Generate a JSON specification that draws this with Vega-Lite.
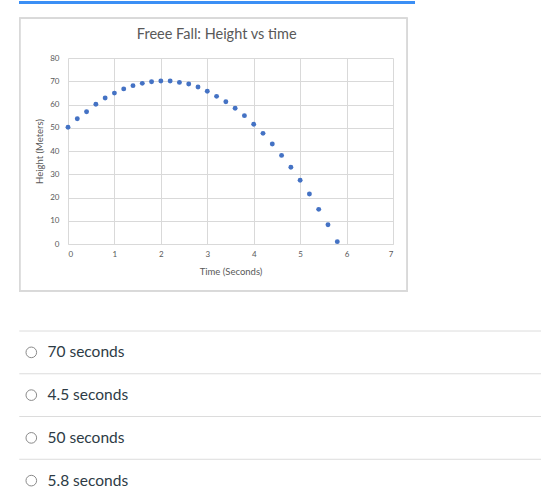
{
  "$schema": "https://vega.github.io/schema/vega-lite/v6.json",
  "padding": {"left": 18, "top": 0, "right": 0, "bottom": 0},
  "background": "white",
  "columns": 1,
  "spacing": 38,
  "concat": [
    {
      "width": 325,
      "height": 186,
      "title": {
        "text": "Freee Fall: Height vs time",
        "font": "Lato",
        "fontSize": 14.5,
        "fontWeight": "normal",
        "color": "#595959",
        "anchor": "middle",
        "frame": "bounds",
        "baseline": "bottom",
        "offset": -56
      },
      "data": {
        "values": [
          {"t": 0.0, "h": 50.2}, {"t": 0.2, "h": 53.9}, {"t": 0.4, "h": 56.9},
          {"t": 0.6, "h": 60.1}, {"t": 0.8, "h": 62.8}, {"t": 1.0, "h": 64.9},
          {"t": 1.2, "h": 66.7}, {"t": 1.4, "h": 68.1}, {"t": 1.6, "h": 69.1},
          {"t": 1.8, "h": 69.8}, {"t": 2.0, "h": 70.1}, {"t": 2.2, "h": 70.1},
          {"t": 2.4, "h": 69.5}, {"t": 2.6, "h": 68.8}, {"t": 2.8, "h": 67.5},
          {"t": 3.0, "h": 65.7}, {"t": 3.2, "h": 63.5}, {"t": 3.4, "h": 61.2},
          {"t": 3.6, "h": 58.4}, {"t": 3.8, "h": 55.2}, {"t": 4.0, "h": 51.5},
          {"t": 4.2, "h": 47.6}, {"t": 4.4, "h": 43.0}, {"t": 4.6, "h": 38.1},
          {"t": 4.8, "h": 33.0}, {"t": 5.0, "h": 27.4}, {"t": 5.2, "h": 21.5},
          {"t": 5.4, "h": 14.9}, {"t": 5.6, "h": 8.3}, {"t": 5.8, "h": 1.0}
        ]
      },
      "layer": [
        {
          "mark": {"type": "rect", "color": "#3b8ff5", "clip": false},
          "encoding": {
            "x": {"datum": -1.049, "type": "quantitative", "title": "Time (Seconds)", "scale": {"domain": [0, 7], "nice": false, "zero": false}, "axis": {"values": [0, 1, 2, 3, 4, 5, 6, 7], "format": "d"}},
            "x2": {"datum": 7.459},
            "y": {"datum": 104.52, "type": "quantitative", "title": "Height (Meters)", "scale": {"domain": [0, 80], "nice": false}, "axis": {"values": [0, 10, 20, 30, 40, 50, 60, 70, 80]}},
            "y2": {"datum": 103.23}
          }
        },
        {
          "mark": {"type": "rect", "fill": "white", "fillOpacity": 0, "stroke": "#d9d9d9", "strokeWidth": 1, "clip": false},
          "encoding": {
            "x": {"datum": -1.0425, "type": "quantitative", "title": "Time (Seconds)", "axis": {"values": [0, 1, 2, 3, 4, 5, 6, 7], "format": "d"}},
            "x2": {"datum": 7.308},
            "y": {"datum": 97.08, "type": "quantitative", "title": "Height (Meters)", "axis": {"values": [0, 10, 20, 30, 40, 50, 60, 70, 80]}},
            "y2": {"datum": -20.2}
          }
        },
        {
          "mark": {"type": "point", "shape": "circle", "filled": true, "color": "#4472c4", "opacity": 1, "size": 24},
          "encoding": {
            "x": {"field": "t", "type": "quantitative", "title": "Time (Seconds)", "axis": {"values": [0, 1, 2, 3, 4, 5, 6, 7], "format": "d"}},
            "y": {"field": "h", "type": "quantitative", "title": "Height (Meters)", "axis": {"values": [0, 10, 20, 30, 40, 50, 60, 70, 80]}}
          }
        }
      ]
    },
    {
      "width": 474,
      "height": 171,
      "data": {
        "values": [
          {"option": "70 seconds"},
          {"option": "4.5 seconds"},
          {"option": "50 seconds"},
          {"option": "5.8 seconds"}
        ]
      },
      "encoding": {
        "y": {
          "field": "option",
          "type": "nominal",
          "sort": null,
          "axis": null,
          "scale": {"paddingInner": 0, "paddingOuter": 0}
        }
      },
      "layer": [
        {
          "mark": {"type": "rule", "color": "#dcdcdc", "strokeWidth": 1, "clip": false},
          "encoding": {
            "x": {"datum": -48.7, "type": "quantitative", "scale": {"domain": [0, 474], "nice": false, "zero": false}, "axis": null},
            "x2": {"datum": 474.3},
            "y": {"field": "option", "type": "nominal", "sort": null, "bandPosition": 0, "axis": null}
          }
        },
        {
          "mark": {"type": "point", "shape": "circle", "filled": false, "stroke": "#8a8a8a", "strokeWidth": 1, "opacity": 1, "size": 113},
          "encoding": {
            "x": {"datum": -36.7, "type": "quantitative", "axis": null}
          }
        },
        {
          "mark": {"type": "text", "align": "left", "baseline": "middle", "font": "Lato", "fontSize": 15.5, "color": "#2d3b45"},
          "encoding": {
            "x": {"datum": -20.5, "type": "quantitative", "axis": null},
            "text": {"field": "option"}
          }
        }
      ]
    }
  ],
  "config": {
    "view": {"stroke": null},
    "axis": {
      "grid": true,
      "gridColor": "#d9d9d9",
      "ticks": false,
      "labelFont": "Lato",
      "labelFontSize": 8,
      "labelColor": "#595959",
      "titleFont": "Lato",
      "titleFontSize": 9.5,
      "titleFontWeight": "normal",
      "titleColor": "#595959"
    },
    "axisX": {"domainColor": "#d9d9d9", "labelPadding": 6, "titlePadding": 8},
    "axisY": {"domain": false, "labelPadding": 9, "titlePadding": 5}
  }
}
